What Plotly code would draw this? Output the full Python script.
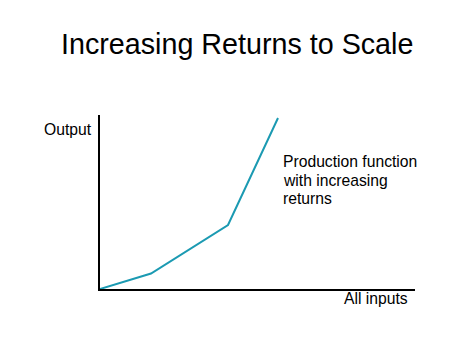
import plotly.graph_objects as go

W, H = 474, 355

# Data (arbitrary units)
inputs = [0, 5.1, 12.8, 17.8]
output = [0, 1.55, 6.4, 17.1]

title_text = "Increasing Returns to Scale"
y_label = "Output"
x_label = "All inputs"
note_lines = ["Production function", "with increasing", "returns"]

FONT = "Liberation Sans, Arial, Helvetica, sans-serif"

def px(x):
    return x / W

def py(y):
    return 1 - y / H

fig = go.Figure()
fig.add_trace(go.Scatter(
    x=inputs, y=output, mode="lines",
    line=dict(color="#1b9ab2", width=2),
    hoverinfo="skip", showlegend=False,
))

axis_common = dict(showgrid=False, zeroline=False, showticklabels=False,
                   ticks="", showline=True, linecolor="black", linewidth=1.5)

annotations = [
    dict(text=title_text, x=px(237), y=py(44), xref="paper", yref="paper",
         showarrow=False, xanchor="center", yanchor="middle",
         font=dict(size=28.7, family=FONT, color="black")),
    dict(text=y_label, x=px(93.5), y=py(129), xref="paper", yref="paper",
         showarrow=False, xanchor="right", yanchor="middle",
         font=dict(size=15.7, family=FONT, color="black")),
    dict(text=x_label, x=px(409.5), y=py(298), xref="paper", yref="paper",
         showarrow=False, xanchor="right", yanchor="middle",
         font=dict(size=15.7, family=FONT, color="black")),
]
for i, line in enumerate(note_lines):
    annotations.append(dict(
        text=line, x=px(280.5), y=py(161.5 + 18.7 * i), xref="paper", yref="paper",
        showarrow=False, xanchor="left", yanchor="middle", align="left",
        font=dict(size=15.7, family=FONT, color="black")))

fig.update_layout(
    width=W, height=H,
    margin=dict(l=0, r=0, t=0, b=0),
    paper_bgcolor="white", plot_bgcolor="white",
    xaxis=dict(domain=[px(100), px(415)], range=[0, 31.5], **axis_common),
    yaxis=dict(domain=[py(289), py(115)], range=[0, 17.4], **axis_common),
    font=dict(family=FONT, color="black"),
    annotations=annotations,
)

fig.write_html("out.html")
